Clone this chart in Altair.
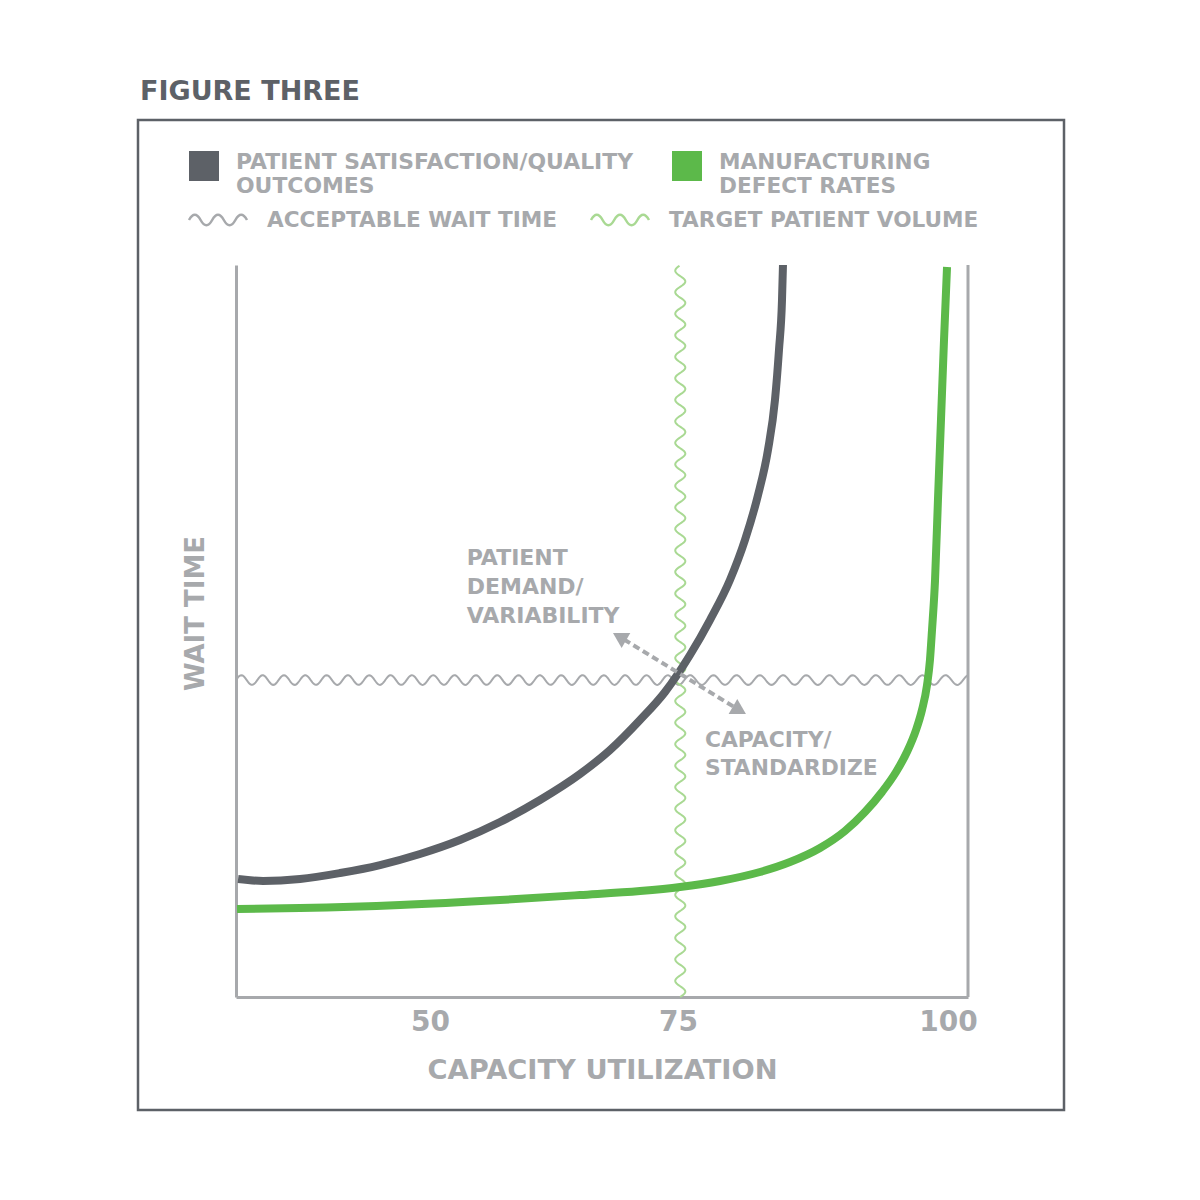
import altair as alt
import pandas as pd

# ---------------- data ----------------
gray_x = [30.65, 33.17, 36.90, 40.93, 44.96, 48.99, 53.02, 57.06, 61.09, 65.12, 68.15,
          71.17, 73.69, 76.11, 77.96, 79.81, 81.20, 82.41, 83.33, 83.98, 84.35, 84.63, 84.72]
gray_y = [16.12, 15.85, 16.12, 16.94, 18.03, 19.54, 21.45, 23.91, 26.91, 30.46, 33.74,
          37.84, 41.67, 46.72, 51.50, 56.97, 62.43, 68.58, 74.73, 81.56, 88.39, 95.22, 100.0]
green_x = [30.54, 36.90, 46.98, 57.06, 65.12, 71.17, 75.19, 78.89, 82.59, 85.37, 88.15,
           90.46, 92.31, 93.89, 95.19, 96.20, 97.04, 97.59, 98.06, 98.33, 98.52, 98.80,
           99.07, 99.35, 99.63, 99.91]
green_y = [12.02, 12.16, 12.57, 13.25, 13.93, 14.48, 15.03, 15.85, 17.08, 18.44, 20.36,
           22.68, 25.27, 28.01, 30.74, 33.47, 36.48, 39.21, 42.62, 46.04, 50.14, 56.97,
           67.90, 78.83, 89.75, 99.73]

ACCEPTABLE_WAIT = 43.3      # horizontal wavy reference line (wait time)
TARGET_VOLUME = 75.2        # vertical wavy reference line (utilization)

x_ticks = [50, 75, 100]
x_domain = [30.44, 50, 75, 100, 101.85]
x_range = [0, 194, 442, 712, 732]
y_domain = [0, 100]

arrow_x = [69.56, 80.28]
arrow_y = [48.84, 39.55]
head_x = [69.10, 80.69]
head_y = [49.21, 39.17]
head_angle = [300, 120]

note1_x, note1_y = [53.7], [59.0]
note2_x, note2_y = [77.5], [34.15]

# ---------------- style ----------------
DARK = "#5d6167"
GREEN = "#5cb94a"
LIGHT_GREEN = "#a9d993"
LIGHT = "#a7a9ac"
FONT_B = "DejaVu Sans"

W, H = 732, 732

xs = alt.Scale(domain=x_domain, range=x_range, nice=False, zero=False)
ys = alt.Scale(domain=y_domain, nice=False, zero=False)

curves = pd.DataFrame({
    "x": gray_x + green_x,
    "y": gray_y + green_y,
    "series": ["gray"] * len(gray_x) + ["green"] * len(green_x),
})

base_x = alt.X("x:Q", scale=xs, axis=alt.Axis(
    title="CAPACITY UTILIZATION", values=x_ticks, ticks=False, grid=False,
    domainColor=LIGHT, domainWidth=3, labelFont=FONT_B, labelFontWeight="bold",
    labelFontSize=28, labelColor=LIGHT, labelBaseline="alphabetic", labelPadding=33,
    labelFlush=False, labelOverlap=False,
    titleFont=FONT_B, titleFontWeight="bold", titleFontSize=27.3, titleColor=LIGHT,
    titleBaseline="alphabetic", titleY=81))
base_y = alt.Y("y:Q", scale=ys, axis=alt.Axis(
    title="WAIT TIME", labels=False, ticks=False, grid=False,
    domainColor=LIGHT, domainWidth=3,
    titleFont=FONT_B, titleFontWeight="bold", titleFontSize=26, titleColor=LIGHT,
    titleAngle=270, titleAlign="center", titleBaseline="middle",
    titleX=-41, titleY=348))

one = pd.DataFrame({"k": [0]})

# frame around the figure
frame = alt.Chart(one).mark_rect(fillOpacity=0, stroke=DARK, strokeWidth=2.5).encode(
    x=alt.value(-98), x2=alt.value(828), y=alt.value(-145), y2=alt.value(845))

# right spine
right_spine = alt.Chart(one).mark_rule(color=LIGHT, strokeWidth=3).encode(
    x=alt.X(datum=x_domain[-1], scale=xs), y=alt.Y(datum=y_domain[0], scale=ys),
    y2=alt.Y2(datum=y_domain[1]))

# wavy reference lines
h_wave = alt.Chart(alt.sequence(x_domain[0], x_domain[-1], 0.11, as_="x")).transform_calculate(
    y=f"{ACCEPTABLE_WAIT} + 0.66*sin(2*PI*(datum.x-{x_domain[0]})/2.15)"
).mark_line(color=LIGHT, strokeWidth=2).encode(x=base_x, y=base_y)

v_wave = alt.Chart(alt.sequence(y_domain[0], y_domain[1] + 0.01, 0.15, as_="y")).transform_calculate(
    x=f"{TARGET_VOLUME} + 0.48*sin(2*PI*datum.y/2.94)"
).mark_line(color=LIGHT_GREEN, strokeWidth=2).encode(
    x=alt.X("x:Q", scale=xs), y=alt.Y("y:Q", scale=ys), order="y:Q")

lines = alt.Chart(curves).mark_line(strokeWidth=8, interpolate="monotone").encode(
    x=alt.X("x:Q", scale=xs), y=alt.Y("y:Q", scale=ys),
    color=alt.Color("series:N", scale=alt.Scale(domain=["gray", "green"], range=[DARK, GREEN]),
                    legend=None))

arrow = alt.Chart(pd.DataFrame({"x": arrow_x, "y": arrow_y})).mark_line(
    color=LIGHT, strokeWidth=4, strokeDash=[7, 4]).encode(
    x=alt.X("x:Q", scale=xs), y=alt.Y("y:Q", scale=ys))
heads = alt.Chart(pd.DataFrame({"x": head_x, "y": head_y, "a": head_angle})).mark_point(
    shape="triangle-up", filled=True, size=300, color=LIGHT, opacity=1).encode(
    x=alt.X("x:Q", scale=xs), y=alt.Y("y:Q", scale=ys), angle=alt.Angle("a:Q", scale=None))

note_style = dict(font=FONT_B, fontWeight="bold", color=LIGHT,
                  align="left", baseline="alphabetic", lineBreak="\n")
note1 = alt.Chart(pd.DataFrame({"x": note1_x, "y": note1_y,
                                "t": ["PATIENT\nDEMAND/\nVARIABILITY"]})).mark_text(
    fontSize=22, lineHeight=29, **note_style).encode(
    x=alt.X("x:Q", scale=xs), y=alt.Y("y:Q", scale=ys), text="t:N")
note2 = alt.Chart(pd.DataFrame({"x": note2_x, "y": note2_y,
                                "t": ["CAPACITY/\nSTANDARDIZE"]})).mark_text(
    fontSize=21.8, lineHeight=28, **note_style).encode(
    x=alt.X("x:Q", scale=xs), y=alt.Y("y:Q", scale=ys), text="t:N")

# title
title = alt.Chart(one).mark_text(font=FONT_B, fontWeight="bold", fontSize=27, color=DARK,
                                 align="left", baseline="alphabetic").encode(
    x=alt.value(-96), y=alt.value(-165), text=alt.value("FIGURE THREE"))

# legend
def legend_text(t, x, y, size=21.6):
    return alt.Chart(one).mark_text(fontSize=size, lineHeight=24, **note_style).encode(
        x=alt.value(x), y=alt.value(y), text=alt.value(t))

sq1 = alt.Chart(one).mark_point(shape="square", filled=True, size=900, color=DARK, opacity=1).encode(
    x=alt.value(-32), y=alt.value(-99))
sq2 = alt.Chart(one).mark_point(shape="square", filled=True, size=900, color=GREEN, opacity=1).encode(
    x=alt.value(451), y=alt.value(-99))
WAVE = "M-1,0 Q-0.8,-0.36 -0.6,0 Q-0.4,0.36 -0.2,0 Q0,-0.36 0.2,0 Q0.4,0.36 0.6,0 Q0.8,-0.36 1,0"
wv1 = alt.Chart(one).mark_point(shape=WAVE, filled=False, size=3364, color=LIGHT, strokeWidth=2.5,
                                opacity=1).encode(x=alt.value(-18), y=alt.value(-45))
wv2 = alt.Chart(one).mark_point(shape=WAVE, filled=False, size=3364, color=LIGHT_GREEN,
                                strokeWidth=2.5, opacity=1).encode(x=alt.value(384), y=alt.value(-45))
lt1 = legend_text("PATIENT SATISFACTION/QUALITY\nOUTCOMES", 0, -96, 21.9)
lt2 = legend_text("MANUFACTURING\nDEFECT RATES", 483, -96)
lt3 = legend_text("ACCEPTABLE WAIT TIME", 31, -38)
lt4 = legend_text("TARGET PATIENT VOLUME", 433, -38)

axes_holder = alt.Chart(curves).mark_point(opacity=0).encode(x=base_x, y=base_y)

chart = alt.layer(
    frame, axes_holder, right_spine, h_wave, v_wave, lines, arrow, heads, note1, note2,
    title, sq1, sq2, wv1, wv2, lt1, lt2, lt3, lt4
).properties(
    width=W, height=H,
    background="white",
    autosize=alt.AutoSizeParams(type="none"),
    padding={"left": 228, "top": 257, "right": 130, "bottom": 130},
).configure_view(strokeWidth=0, strokeOpacity=0)

chart.save("out.html", embed_options={"renderer": "svg", "actions": False})
